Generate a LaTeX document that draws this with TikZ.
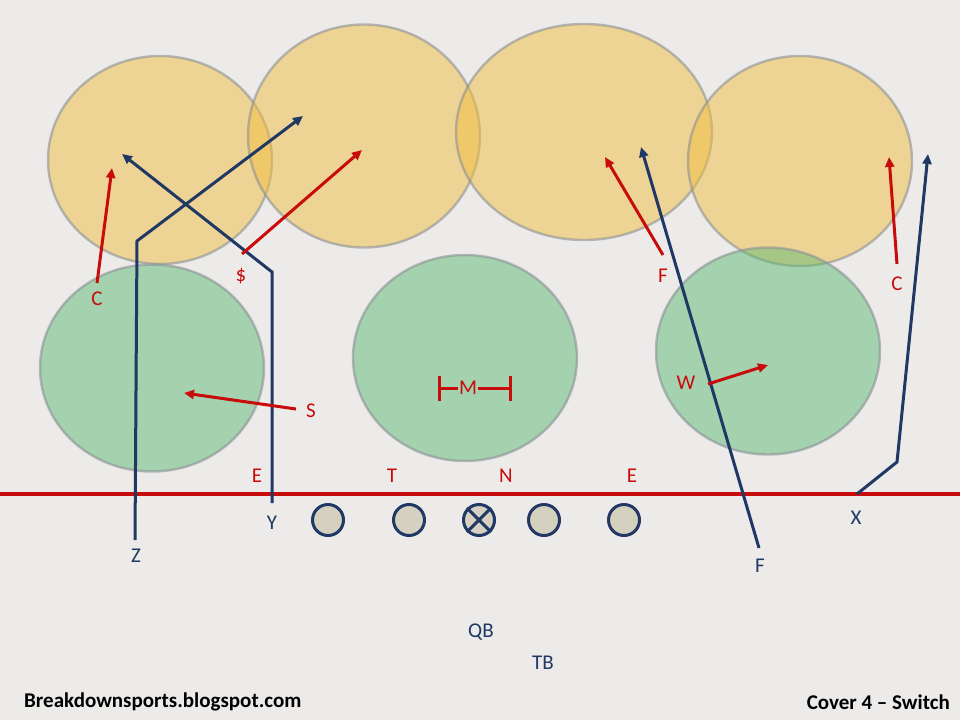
\documentclass[tikz,border=0pt]{standalone}
\usepackage{fontspec}
\setmainfont{Carlito}
\usetikzlibrary{arrows.meta,shapes.geometric}
\definecolor{bg}{RGB}{237,235,233}
\definecolor{navy}{RGB}{31,56,100}
\definecolor{redc}{RGB}{200,12,12}
\definecolor{gold}{RGB}{240,190,65}
\definecolor{grn}{RGB}{93,185,117}
\definecolor{rim}{RGB}{140,145,150}
\definecolor{lineman}{RGB}{214,208,192}
\begin{document}
\begin{tikzpicture}[x=1pt,y=-1pt,
  zone/.style={ellipse, inner sep=0pt, draw=rim, draw opacity=0.6, line width=2.4pt, fill opacity=0.5},
  gzone/.style={zone, fill=gold},
  ggreen/.style={zone, fill=grn},
  rlab/.style={text=redc, font=\fontsize{21}{24}\selectfont, inner sep=1pt},
  blab/.style={text=navy, font=\fontsize{21}{24}\selectfont, inner sep=1pt},
  route/.style={draw=navy, line width=3pt, line join=miter},
  rarrow/.style={draw=redc, line width=3pt},
  tip/.style={-{Triangle[length=10pt,width=9pt]}},
  olin/.style={circle, draw=navy, line width=3pt, fill=lineman, minimum size=31pt, inner sep=0pt}
]
\fill[bg] (0,0) rectangle (960,720);
\useasboundingbox (0,0) rectangle (960,720);

% deep zones
\node[gzone, minimum width=224pt, minimum height=208pt] (d1) at (160,160) {};
\node[gzone, minimum width=232pt, minimum height=223pt] (d2) at (364,136) {};
\node[gzone, minimum width=256pt, minimum height=216pt] (d3) at (584,132) {};
\node[gzone, minimum width=224pt, minimum height=210pt] (d4) at (800,161) {};
% underneath zones
\node[ggreen, minimum width=224pt, minimum height=207pt] (u1) at (152,368) {};
\node[ggreen, minimum width=224pt, minimum height=206pt] (u2) at (465,358) {};
\node[ggreen, minimum width=224pt, minimum height=207pt] (u3) at (768,351) {};

% line of scrimmage
\coordinate (losL) at (0,494);
\coordinate (losR) at (960,494);
\draw[redc, line width=3.2pt] (losL) -- (losR);

% offensive line
\node[olin] (o1) at (328,520) {};
\node[olin] (o2) at (409,520) {};
\node[olin] (o3) at (479,520) {};
\node[olin] (o4) at (544,520) {};
\node[olin] (o5) at (624,520) {};
\draw[navy, line width=3pt] (o3.45) -- (o3.225) (o3.135) -- (o3.315);

% offense labels
\node[blab] (Y) at (272,523) {Y};
\node[blab] (Z) at (136,556) {Z};
\node[blab] (Fo) at (760,566) {F};
\node[blab] (X) at (856,518) {X};
\node[blab] (QB) at (481,632) {QB};
\node[blab] (TB) at (543,663) {TB};

% defense labels
\node[rlab] (E1) at (257,476) {E};
\node[rlab] (T) at (392,476) {T};
\node[rlab] (N) at (506,476) {N};
\node[rlab] (E2) at (632,476) {E};
\node[rlab] (C1) at (97,299) {C};
\node[rlab] (DS) at (241,276) {\$};
\node[rlab] (Fd) at (663,276) {F};
\node[rlab] (C2) at (897,284) {C};
\node[rlab] (S) at (311,411) {S};
\node[rlab] (W) at (686,383) {W};
\node[rlab] (M) at (468,388) {M};

% route points
\coordinate (ys) at (272,503);
\coordinate (yc) at (272,272);
\coordinate (ye) at (122,154);
\coordinate (zs) at (135,540);
\coordinate (zc) at (137,241);
\coordinate (ze) at (303,116);
\coordinate (fs) at (759,548);
\coordinate (fe) at (641,147);
\coordinate (xs) at (857,494);
\coordinate (xc) at (897,462);
\coordinate (xe) at (928,154);

\draw[route, tip] (ys) -- (yc) -- (ye);
\draw[route, tip] (zs) -- (zc) -- (ze);
\draw[route, tip] (fs) -- (fe);
\draw[route, tip] (xs) -- (xc) -- (xe);

% defender drops
\coordinate (c1s) at (97,283);
\coordinate (c1e) at (112,168);
\coordinate (dss) at (242,254);
\coordinate (dse) at (362,150);
\coordinate (fds) at (663,255);
\coordinate (fde) at (605,157);
\coordinate (c2s) at (897,264);
\coordinate (c2e) at (889,157);
\coordinate (ss) at (296,409);
\coordinate (se) at (184,393);
\coordinate (ws) at (708,384);
\coordinate (we) at (768,365);
\coordinate (ml) at (438,388);
\coordinate (mr) at (512,388);

\draw[rarrow, tip] (c1s) -- (c1e);
\draw[rarrow, tip] (dss) -- (dse);
\draw[rarrow, tip] (fds) -- (fde);
\draw[rarrow, tip] (c2s) -- (c2e);
\draw[rarrow, tip] (ss) -- (se);
\draw[rarrow, tip] (ws) -- (we);
\draw[rarrow, {Bar[width=25pt]}-] (ml) -- (M.west);
\draw[rarrow, -{Bar[width=25pt]}] (M.east) -- (mr);

% footer
\node[anchor=west, font=\fontsize{21}{24}\selectfont\bfseries, text=black, inner sep=0pt] (site) at (24,702) {Breakdownsports.blogspot.com};
\node[anchor=east, font=\fontsize{21}{24}\selectfont\bfseries, text=black, inner sep=0pt] (title) at (950,702) {Cover 4 – Switch};
\end{tikzpicture}
\end{document}
